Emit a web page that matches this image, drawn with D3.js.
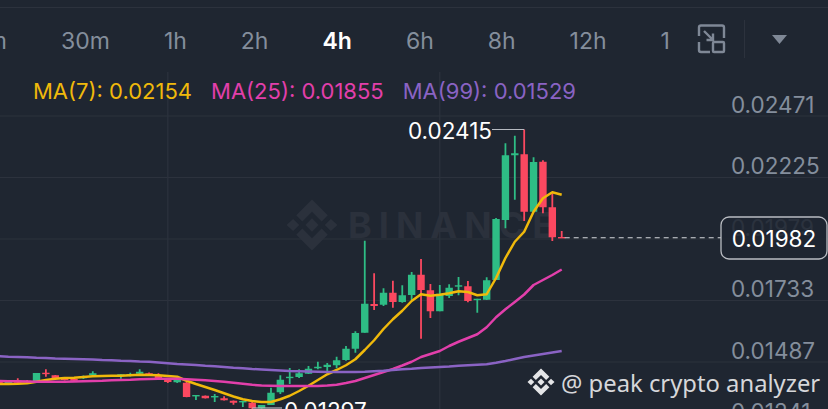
<!DOCTYPE html>
<html>
<head>
<meta charset="utf-8">
<script src="https://cdn.jsdelivr.net/npm/d3@7"></script>
<style>
  html, body { margin: 0; padding: 0; background: #1f2631; overflow: hidden; }
  text { font-family: Inter, sans-serif; }
</style>
</head>
<body>
<div id="chart"></div>
<script>
// candles, oldest first
const opens = [.01406,.01400,.01410,.01410,.01409,.01442,.01432,.01420,.01417,.01420,.01432,.01432,.01432,.01429,.01430,.01438,.01440,.01429,.01416,.01404,.01402,.01348,.01350,.01344,.01340,.01330,.01324,.01322,.01300,.01313,.01364,.01421,.01425,.01438,.01460,.01465,.01472,.01493,.01538,.01602,.01717,.01714,.01762,.01725,.01753,.01834,.01772,.01688,.01749,.01788,.01788,.01733,.01734,.01813,.02053,.02312,.02316,.02086,.02286,.02104,.01985]
const closes = [.01400,.01408,.01402,.01404,.01441,.01437,.01420,.01413,.01410,.01429,.01440,.01426,.01429,.01436,.01437,.01446,.01432,.01420,.01405,.01415,.01345,.01353,.01340,.01349,.01332,.01322,.01329,.01300,.01313,.01362,.01414,.01426,.01440,.01458,.01466,.01474,.01492,.01538,.01601,.01718,.01709,.01762,.01725,.01752,.01834,.01773,.01688,.01758,.01782,.01792,.01729,.01738,.01812,.02057,.02312,.02320,.02086,.02285,.02104,.01984,.01982]
const highs = [.01407,.01411,.01420,.01413,.01441,.01456,.01433,.01421,.01419,.01431,.01448,.01433,.01433,.01437,.01442,.01456,.01443,.01440,.01417,.01417,.01405,.01353,.01351,.01357,.01348,.01331,.01329,.01325,.01313,.01382,.01432,.01461,.01456,.01469,.01486,.01481,.01506,.01549,.01608,.01970,.01840,.01780,.01810,.01792,.01845,.01897,.01797,.01793,.01796,.01825,.01809,.01738,.01824,.02061,.02360,.02390,.02415,.02304,.02292,.02160,.02009]
const lows = [.01399,.01397,.01401,.01401,.01409,.01426,.01417,.01411,.01407,.01417,.01427,.01425,.01425,.01418,.01427,.01435,.01431,.01416,.01401,.01401,.01344,.01333,.01339,.01325,.01331,.01314,.01305,.01297,.01298,.01313,.01357,.01397,.01421,.01437,.01456,.01446,.01460,.01490,.01522,.01602,.01693,.01709,.01702,.01722,.01733,.01578,.01661,.01688,.01741,.01752,.01724,.01682,.01733,.01813,.02020,.02134,.02049,.02086,.02080,.01969,.01982]

// moving averages, same candles
const ma7 = [.01397,.01397,.01398,.01400,.01406,.01413,.01418,.01421,.01422,.01425,.01428,.01429,.01430,.01430,.01432,.01434,.01433,.01432,.01429,.01426,.01410,.01397,.01385,.01373,.01360,.01347,.01336,.01329,.01325,.01325,.01336,.01350,.01369,.01390,.01413,.01436,.01453,.01472,.01496,.01533,.01572,.01617,.01656,.01690,.01729,.01756,.01750,.01754,.01760,.01768,.01765,.01752,.01756,.01821,.01901,.01966,.02006,.02086,.02140,.02164,.02154]
const ma25 = [.01409,.01408,.01408,.01407,.01406,.01406,.01406,.01406,.01407,.01408,.01409,.01410,.01412,.01413,.01414,.01416,.01417,.01418,.01418,.01418,.01416,.01414,.01412,.01409,.01406,.01402,.01398,.01394,.01391,.01390,.01389,.01389,.01389,.01389,.01389,.01391,.01394,.01401,.01409,.01421,.01433,.01445,.01457,.01471,.01486,.01505,.01517,.01529,.01549,.01566,.01581,.01596,.01624,.01664,.01696,.01725,.01755,.01793,.01813,.01833,.01855]
const ma99 = [.01508,.01506,.01505,.01504,.01502,.01501,.01499,.01498,.01497,.01496,.01495,.01493,.01492,.01490,.01489,.01487,.01486,.01483,.01480,.01477,.01475,.01473,.01470,.01468,.01465,.01462,.01460,.01457,.01455,.01453,.01451,.01449,.01448,.01447,.01446,.01445,.01445,.01445,.01445,.01446,.01448,.01450,.01453,.01456,.01458,.01461,.01463,.01465,.01467,.01470,.01472,.01474,.01476,.01482,.01489,.01497,.01505,.01511,.01517,.01523,.01529]

const priceTicks = [.02471,.02225,.01979,.01733,.01487,.01241]
const timeGrid = [18, 47]
const tabs = ['30m','1h','2h','4h','6h','8h','12h','1D']
const activeTab = '4h'
const legendNames = ['MA(7)','MA(25)','MA(99)']
const legendValues = ['0.02154','0.01855','0.01529']
const legendColors = ['#f0b90b','#e23fab','#8a63c4']
const lastPrice = .01982
const highPrice = .02415
const lowPrice = .01297

const width = 828
const height = 409
const up = '#2ebd85'
const down = '#fb4860'
const gridColor = '#2c323d'
const tickColor = '#848e9c'

const svg = d3.select('#chart').append('svg')
    .attr('width', width)
    .attr('height', height)
    .style('display', 'block')

const x = d3.scaleLinear().domain([0, 60]).range([-1, 561.7])
const y = d3.scaleLinear().domain([.01241, .02471]).range([423, 115.5])

// binance mark, unit size
const logoShapes = [
    [[0,-.26],[.26,0],[0,.26],[-.26,0]],
    [[-.74,-.24],[-.5,0],[-.74,.24],[-1,0]],
    [[.74,-.24],[1,0],[.74,.24],[.5,0]],
    [[0,-1],[.62,-.38],[.38,-.14],[0,-.52],[-.38,-.14],[-.62,-.38]],
    [[0,1],[.62,.38],[.38,.14],[0,.52],[-.38,.14],[-.62,.38]]
]
const drawLogo = (parent, cx, cy, r, color) => {
    parent.append('g')
        .attr('transform', `translate(${cx},${cy}) scale(${r})`)
        .selectAll('polygon').data(logoShapes).enter()
        .append('polygon')
            .attr('points', d => d.join(' '))
            .attr('fill', color)
}

// top bar
svg.append('line')
    .attr('x1', 0).attr('x2', width)
    .attr('y1', 7.5).attr('y2', 7.5)
    .attr('stroke', gridColor)

svg.append('clipPath').attr('id', 'tabClip')
    .append('rect').attr('x', 0).attr('y', 10).attr('width', 671).attr('height', 60)

const tabGroup = svg.append('g').attr('clip-path', 'url(#tabClip)')
tabGroup.append('text')
    .attr('x', 7).attr('y', 49)
    .attr('text-anchor', 'end')
    .attr('font-size', 23)
    .attr('fill', tickColor)
    .text('15m')

let tabX = 61
tabs.forEach(t => {
    const label = tabGroup.append('text')
        .attr('x', tabX).attr('y', 49)
        .attr('font-size', 23)
        .attr('font-weight', t === activeTab ? 600 : 400)
        .attr('fill', t === activeTab ? '#ffffff' : tickColor)
        .text(t)
    tabX += label.node().getComputedTextLength() + 54
})

const icon = svg.append('g').attr('fill', 'none').attr('stroke', '#7f8896').attr('stroke-width', 2.4)
icon.append('path').attr('d', 'M699 36V27.5a2 2 0 0 1 2-2H722a2 2 0 0 1 2 2V38M699 42V50a2 2 0 0 0 2 2H710')
icon.append('rect').attr('x', 713).attr('y', 42).attr('width', 11).attr('height', 10).attr('rx', 1)
icon.append('path').attr('d', 'M704 31L713 40M713 33.5V40H706.5')
svg.append('line')
    .attr('x1', 744.5).attr('x2', 744.5)
    .attr('y1', 20).attr('y2', 58)
    .attr('stroke', gridColor)
svg.append('polygon')
    .attr('points', '772,35 787,35 779.5,44')
    .attr('fill', '#7f8896')

// grid
const yAxis = d3.axisRight(y)
    .tickValues(priceTicks)
    .tickFormat(d => d.toFixed(5))
    .tickSize(width)

const yGroup = svg.append('g').call(yAxis)
yGroup.select('.domain').remove()
yGroup.selectAll('line').attr('stroke', gridColor).attr('stroke-width', 1.2)
yGroup.selectAll('text')
    .attr('x', 731)
    .attr('dy', '-3.5')
    .attr('font-size', 22.5)
    .attr('font-family', 'Inter, sans-serif')
    .attr('fill', tickColor)

svg.selectAll('line.timeGrid').data(timeGrid).enter()
    .append('line')
        .attr('class', 'timeGrid')
        .attr('x1', d => x(d)).attr('x2', d => x(d))
        .attr('y1', 72).attr('y2', height)
        .attr('stroke', gridColor)
        .attr('stroke-width', 1.2)

// watermark
const markColor = '#2b313c'
drawLogo(svg, 312, 225, 25.5, markColor)
svg.append('text')
    .attr('x', 348).attr('y', 238)
    .attr('font-size', 36)
    .attr('font-weight', 700)
    .attr('letter-spacing', 7)
    .attr('fill', markColor)
    .text('BINANCE')

// legend
let legendX = 33
legendNames.forEach((name, i) => {
    const label = svg.append('text')
        .attr('x', legendX).attr('y', 99)
        .attr('font-size', 22)
        .attr('fill', legendColors[i])
        .text(`${name}: ${legendValues[i]}`)
    legendX += label.node().getComputedTextLength() + 19
})

// candles
const candles = svg.append('g').selectAll('g').data(opens).enter().append('g')
const candleColor = (d, i) => closes[i] >= d ? up : down
candles.append('line')
    .attr('x1', (d, i) => x(i)).attr('x2', (d, i) => x(i))
    .attr('y1', (d, i) => y(highs[i])).attr('y2', (d, i) => y(lows[i]))
    .attr('stroke', candleColor)
    .attr('stroke-width', 1.8)
candles.append('rect')
    .attr('x', (d, i) => x(i) - 3.7)
    .attr('width', 7.4)
    .attr('y', (d, i) => y(Math.max(d, closes[i])))
    .attr('height', (d, i) => Math.max(1.4, Math.abs(y(d) - y(closes[i]))))
    .attr('fill', candleColor)

// moving averages
const maLine = d3.line()
    .x((d, i) => x(i))
    .y(d => y(d))

;[ma7, ma25, ma99].forEach((series, i) => {
    svg.append('path')
        .attr('d', maLine(series))
        .attr('fill', 'none')
        .attr('stroke', legendColors[i])
        .attr('stroke-width', 2.5)
        .attr('stroke-linejoin', 'round')
})

// high and low markers
const highIndex = highs.indexOf(highPrice)
const lowIndex = lows.indexOf(lowPrice)
svg.append('line')
    .attr('x1', 492).attr('x2', x(highIndex))
    .attr('y1', y(highPrice)).attr('y2', y(highPrice))
    .attr('stroke', '#b5b9c0')
    .attr('stroke-width', 1.2)
svg.append('text')
    .attr('x', 492).attr('y', y(highPrice) + 9.5)
    .attr('text-anchor', 'end')
    .attr('font-size', 22.5)
    .attr('fill', '#ffffff')
    .text(highPrice.toFixed(5))
svg.append('line')
    .attr('x1', x(lowIndex)).attr('x2', 282)
    .attr('y1', y(lowPrice) - 1).attr('y2', y(lowPrice) - 1)
    .attr('stroke', '#b5b9c0')
    .attr('stroke-width', 1.2)
svg.append('text')
    .attr('x', 284).attr('y', y(lowPrice) + 9.5)
    .attr('font-size', 22.5)
    .attr('fill', '#ffffff')
    .text(lowPrice.toFixed(5))

// last price
svg.append('line')
    .attr('x1', x(60) + 3).attr('x2', 721)
    .attr('y1', y(lastPrice)).attr('y2', y(lastPrice))
    .attr('stroke', '#d5d7db')
    .attr('stroke-width', 1.2)
    .attr('stroke-dasharray', '5 4')
svg.append('rect')
    .attr('x', 721).attr('y', 217)
    .attr('width', 106).attr('height', 42)
    .attr('rx', 8)
    .attr('fill', '#1f2631')
    .attr('fill-opacity', .88)
    .attr('stroke', '#b9bcc2')
    .attr('stroke-width', 1.3)
svg.append('text')
    .attr('x', 774).attr('y', 247)
    .attr('text-anchor', 'middle')
    .attr('font-size', 22.5)
    .attr('fill', '#ffffff')
    .text(lastPrice.toFixed(5))

// attribution
drawLogo(svg, 541, 382, 13.5, '#e4e5e7')
svg.append('text')
    .attr('x', 561).attr('y', 392)
    .attr('font-size', 23.8)
    .style('font-family', '"Noto Sans", sans-serif')
    .attr('fill', '#d6d7da')
    .text('@ peak crypto analyzer')
</script>
</body>
</html>
